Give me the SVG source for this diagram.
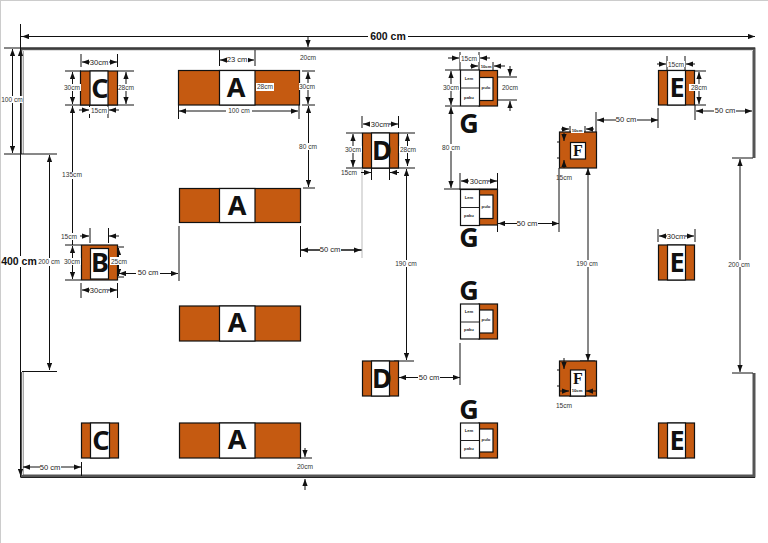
<svg xmlns="http://www.w3.org/2000/svg" width="768" height="543" viewBox="0 0 768 543">
<style>
.o{fill:#c55a11;stroke:#111;stroke-width:1.2}
.w{fill:#fff;stroke:#111;stroke-width:1.2}
.L{font:700 27px "Noto Sans","Liberation Sans",sans-serif;fill:#111;text-anchor:middle}
.S{font:700 16px "Liberation Serif",serif;fill:#111;text-anchor:middle}
.t{font:6.6px "Liberation Sans",sans-serif;fill:#333;text-anchor:middle}
.m{font:7.6px "Liberation Sans",sans-serif;fill:#222;text-anchor:middle}
.b{font:700 10.500px "Liberation Sans",sans-serif;fill:#111;text-anchor:middle}
.x{font:700 4.2px "Liberation Sans",sans-serif;fill:#222;text-anchor:middle}
.d{stroke:#111;stroke-width:1;fill:none}
.a{stroke:#111;stroke-width:1;fill:none;marker-start:url(#h);marker-end:url(#h)}
.e{stroke:#111;stroke-width:1;fill:none;marker-end:url(#h)}
.wall{stroke:#555;fill:none;stroke-width:3}
.in{stroke:#ddd;fill:none;stroke-width:1}
.k{stroke:#222;fill:none;stroke-width:1}
</style>
<defs>
<marker id="h" viewBox="0 0 8 6" refX="8" refY="3" markerWidth="7" markerHeight="5.500" markerUnits="userSpaceOnUse" orient="auto-start-reverse"><path d="M0 0L8 3L0 6z" fill="#111"/></marker>
</defs>
<rect width="768" height="543" fill="#fff"/>
<path d="M.5 0V543M0 .5H768" stroke="#ccc" fill="none"/>
<g id="walls">
<path class="wall" d="M22 154V49H754V158"/>
<path class="wall" d="M22 372V476H754V373"/>
<path class="in" d="M22.500 154V50.500H753M22.500 372V475"/>
<path class="k" d="M20.500 48H755M20.500 477.500H755"/>
</g>
<g id="connectors">
<path class="d" d="M20.500 24V477M4 48H20M4 154H57M22 371.500H57M21 36.500H755"/>
<path class="d" d="M81 54V67M117.500 54V67M65 71H81M65 105H134M118 71H134M89.500 105V118M108 105V118M219.500 50V66M255 50V66M178.500 104V119M299 104V119M302 71H315M302 105H315M303 188H315M179 226V281M300.500 226V257M90 228V243M108.500 228V243M65 245H81M65 280H81M118 247H124M118 277H124M81 283V298M117.500 283V298M81.500 462V476M300 458H312"/>
<path class="d" d="M362 116V128M398.500 116V128M346 133H362M346 168H415M398 133H415M371.500 168V180M389.500 168V180M394 361H414M460 343V385"/>
<path class="d" d="M460 52V70M479 52V74M493 62V74M445 70H460M445 106H460M497 77H517M497 100H517M444 189H497M460 173V190M497.500 173V232M559 168V232M557 142H570M557 158H570M570 126V133M585 126V133M596 112V168M658 108V128M580 361H595M557 370H570M557 386H570M570 390V397M585 390V397"/>
<path class="d" d="M667 56V70M685 56V70M695 71H706M695 105H706M695 105V120M732 158H753M732 373H753M658 229V242M695 229V242"/>
<path stroke="#bbb" d="M362 168V258" fill="none"/>
<path class="d" d="M300.500 250H362"/>
<path class="a" d="M22 36.500H755"/>
<path class="a" d="M12.500 49V153"/>
<path class="a" d="M49.500 155V370"/>
<path class="a" d="M20.500 49V476"/>
<path class="a" d="M82 62H117"/>
<path class="a" d="M72.500 72V104"/>
<path class="a" d="M126 72V104"/>
<path class="a" d="M179 111H298"/>
<path class="a" d="M220 60H254"/>
<path class="a" d="M265 72V104"/>
<path class="a" d="M308 72V104"/>
<path class="a" d="M308.500 106V187"/>
<path class="a" d="M72.500 246V279"/>
<path class="a" d="M118.500 248V276"/>
<path class="a" d="M82 290H117"/>
<path class="a" d="M119 273.500H178"/>
<path class="a" d="M23 467H81"/>
<path class="a" d="M301 250H361"/>
<path class="a" d="M363 124H398"/>
<path class="a" d="M353 134V167"/>
<path class="a" d="M407.500 134V166"/>
<path class="a" d="M399 377.500H460"/>
<path class="a" d="M451 71V105"/>
<path class="a" d="M451 107V188"/>
<path class="a" d="M461 181H497"/>
<path class="a" d="M498 223.500H559"/>
<path class="a" d="M597 120H658"/>
<path class="a" d="M659 236H694"/>
<path class="a" d="M696 111H752"/>
<path class="a" d="M740 159V372"/>
<path class="a" d="M699 72V104"/>
<path class="a" d="M588 168V361"/>
<path class="a" d="M406.500 169V360"/>
<path class="e" d="M308 37V47"/>
<path class="e" d="M305 448V457"/>
<path class="e" d="M305 490V479"/>
<path class="e" d="M72.500 245V106"/>
<path class="e" d="M79 110H89"/>
<path class="e" d="M119 110H109"/>
<path class="e" d="M80 236H89"/>
<path class="e" d="M119 236H109"/>
<path class="e" d="M361 172.500H371"/>
<path class="e" d="M399 172.500H390"/>
<path class="e" d="M448 58H459"/>
<path class="e" d="M490 58H480"/>
<path class="e" d="M470 66H478"/>
<path class="e" d="M505 66H494"/>
<path class="e" d="M510 66V76"/>
<path class="e" d="M510 111V101"/>
<path class="e" d="M657 64H666"/>
<path class="e" d="M695 64H686"/>
</g>
<g id="A1"><rect class="o" x="178.500" y="70.500" width="121" height="34.500"/><rect class="w" x="219.500" y="70.500" width="35.500" height="34.500"/><text class="L" x="236" y="97">A</text></g>
<g id="A2"><rect class="o" x="179.500" y="188.500" width="121" height="34"/><rect class="w" x="219.500" y="188.500" width="35.500" height="34"/><text class="L" x="237" y="215">A</text></g>
<g id="A3"><rect class="o" x="179.500" y="306" width="121" height="35"/><rect class="w" x="219.500" y="306" width="35.500" height="35"/><text class="L" x="237" y="332">A</text></g>
<g id="A4"><rect class="o" x="179.500" y="423" width="121" height="35"/><rect class="w" x="219.500" y="423" width="35.500" height="35"/><text class="L" x="237" y="449">A</text></g>
<g id="C1"><rect class="o" x="80.500" y="71" width="37" height="34"/><rect class="w" x="90" y="71" width="18" height="34"/><text class="L" x="100" y="98">C</text></g>
<g id="C2"><rect class="o" x="81.500" y="423" width="37" height="35"/><rect class="w" x="90.500" y="423" width="19" height="35"/><text class="L" x="101" y="450">C</text></g>
<g id="B"><rect class="o" x="81.500" y="245" width="36" height="35"/><rect class="w" x="90.500" y="248.500" width="18" height="30.500"/><text class="L" x="100" y="272">B</text></g>
<g id="D1"><rect class="o" x="362.500" y="133" width="36" height="35"/><rect class="w" x="371.500" y="133" width="18" height="35"/><text class="L" x="382" y="160">D</text></g>
<g id="D2"><rect class="o" x="362.500" y="361" width="36" height="35"/><rect class="w" x="371.500" y="361" width="18" height="35"/><text class="L" x="382" y="388">D</text></g>
<g id="E1"><rect class="o" x="658.500" y="70.500" width="36" height="34.500"/><rect class="w" x="667.500" y="70.500" width="18" height="34.500"/><text class="L" x="677" y="97">E</text></g>
<g id="E2"><rect class="o" x="658.500" y="245" width="36" height="35"/><rect class="w" x="667.500" y="245" width="18" height="35"/><text class="L" x="677" y="272">E</text></g>
<g id="E3"><rect class="o" x="658.500" y="423" width="36" height="35"/><rect class="w" x="667.500" y="423" width="18" height="35"/><text class="L" x="677" y="450">E</text></g>
<g id="F1"><rect class="o" x="559.500" y="132" width="37" height="36"/><rect class="w" x="570.500" y="142.500" width="15" height="16.500"/><text class="S" x="578" y="156">F</text>
<path class="e" d="M564 133V141"/><path class="e" d="M564 168V160"/><path class="e" d="M561 129H569"/><path class="e" d="M594 129H586"/></g>
<g id="F2"><rect class="o" x="559.500" y="361" width="37" height="35"/><rect class="w" x="570.500" y="370" width="15" height="26"/><text class="S" x="578" y="384">F</text>
<path class="e" d="M564 358V369"/><path class="e" d="M560 391H569"/><path class="e" d="M596 391H586"/></g>
<g id="G1"><rect class="o" x="479" y="70.500" width="18.500" height="35.500"/><rect class="w" x="479" y="77.500" width="14" height="23"/><rect class="w" x="460.500" y="70" width="19" height="36"/><path class="k" d="M460 88H479"/><text class="x" x="469" y="80">Lem</text><text class="x" x="469" y="99">paku</text><text class="x" x="486" y="89">pulo</text><text class="L" x="469" y="133">G</text></g>
<g id="G2"><rect class="o" x="479" y="189.500" width="18.500" height="35.500"/><rect class="w" x="479" y="195" width="14" height="23.500"/><rect class="w" x="460.500" y="189.500" width="19" height="36"/><path class="k" d="M460 207.500H479"/><text class="x" x="469" y="199">Lem</text><text class="x" x="469" y="217">paku</text><text class="x" x="486" y="208">pulo</text><text class="L" x="469" y="247">G</text></g>
<g id="G3"><rect class="o" x="479" y="304" width="18.500" height="35"/><rect class="w" x="479" y="310" width="14" height="23"/><rect class="w" x="460.500" y="304" width="19" height="35"/><path class="k" d="M460 322H479"/><text class="x" x="469" y="313">Lem</text><text class="x" x="469" y="331">paku</text><text class="x" x="486" y="321">pulo</text><text class="L" x="469" y="300">G</text></g>
<g id="G4"><rect class="o" x="479" y="423" width="18.500" height="35"/><rect class="w" x="479" y="429" width="14" height="23"/><rect class="w" x="460.500" y="423" width="19" height="35"/><path class="k" d="M460 440.500H479"/><text class="x" x="469" y="432">Lem</text><text class="x" x="469" y="450">paku</text><text class="x" x="486" y="441">pulo</text><text class="L" x="469" y="419">G</text></g>
<g id="labels">
<g fill="#fff"><rect x="368" y="31" width="40" height="10"/><rect x="3" y="256" width="34" height="11"/><rect x="38" y="258" width="23" height="8"/><rect x="90" y="59" width="19" height="7"/><rect x="227" y="57" width="21" height="7"/><rect x="226" y="108" width="26" height="7"/><rect x="256" y="83" width="18" height="8"/><rect x="89" y="107" width="19" height="7"/><rect x="64" y="84" width="17" height="7"/><rect x="118" y="84" width="17" height="7"/><rect x="299" y="83" width="17" height="7"/><rect x="298" y="143" width="21" height="7"/><rect x="62" y="172" width="21" height="7"/><rect x="2" y="96" width="21" height="7"/><rect x="62" y="233" width="17" height="7"/><rect x="63" y="258" width="18" height="7"/><rect x="110" y="257" width="17" height="8"/><rect x="90" y="287" width="18" height="7"/><rect x="136" y="270" width="24" height="7"/><rect x="40" y="464" width="21" height="7"/><rect x="320" y="247" width="21" height="7"/><rect x="370" y="121" width="19" height="7"/><rect x="344" y="146" width="18" height="7"/><rect x="399" y="146" width="17" height="7"/><rect x="340" y="169" width="19" height="7"/><rect x="395" y="260" width="23" height="7"/><rect x="418" y="374" width="22" height="7"/><rect x="460" y="55" width="19" height="7"/><rect x="480" y="63" width="12" height="6"/><rect x="442" y="84" width="18" height="7"/><rect x="500" y="84" width="20" height="7"/><rect x="441" y="144" width="20" height="7"/><rect x="469" y="178" width="19" height="7"/><rect x="517" y="220" width="21" height="7"/><rect x="576" y="260" width="23" height="7"/><rect x="616" y="117" width="21" height="7"/><rect x="714" y="108" width="22" height="7"/><rect x="727" y="260" width="24" height="7"/><rect x="667" y="61" width="18" height="6"/><rect x="689" y="84" width="19" height="7"/><rect x="667" y="233" width="18" height="7"/><rect x="571" y="127" width="13" height="6"/><rect x="571" y="388" width="13" height="6"/></g>
<text class="b" x="388" y="40">600 cm</text><text class="b" x="19" y="265">400 cm</text>
<text class="t" x="12" y="102">100 cm</text><text class="t" x="49" y="264">200 cm</text><text class="m" x="99" y="65">30cm</text><text class="m" x="237" y="62">23 cm</text><text class="t" x="72" y="90">30cm</text><text class="t" x="126" y="90">28cm</text><text class="t" x="99" y="113">15cm</text><text class="t" x="265" y="89">28cm</text><text class="t" x="307" y="89">30cm</text><text class="t" x="308" y="60">20cm</text><text class="t" x="239" y="113">100 cm</text><text class="t" x="308" y="149">80 cm</text><text class="t" x="72" y="177">135cm</text>
<text class="t" x="69" y="239">15cm</text><text class="t" x="72" y="264">30cm</text><text class="t" x="119" y="264">25cm</text><text class="m" x="99" y="293">30cm</text><text class="m" x="148" y="275">50 cm</text><text class="m" x="50" y="470">50 cm</text><text class="t" x="305" y="469">20cm</text><text class="m" x="330" y="252">50 cm</text>
<text class="m" x="380" y="127">30cm</text><text class="t" x="353" y="152">30cm</text><text class="t" x="408" y="152">28cm</text><text class="t" x="349" y="175">15cm</text><text class="t" x="406" y="266">190 cm</text><text class="m" x="429" y="380">50 cm</text>
<text class="t" x="469" y="61">15cm</text><text class="x" x="486" y="68">10cm</text><text class="t" x="451" y="90">30cm</text><text class="t" x="510" y="90">20cm</text><text class="t" x="451" y="150">80 cm</text><text class="m" x="479" y="184">30cm</text><text class="m" x="527" y="226">50 cm</text>
<text class="x" x="577" y="132">10cm</text><text class="t" x="564" y="180">15cm</text><text class="t" x="587" y="266">190 cm</text><text class="x" x="577" y="392">10cm</text><text class="t" x="564" y="408">15cm</text>
<text class="m" x="626" y="122">50 cm</text><text class="t" x="676" y="67">15cm</text><text class="t" x="699" y="90">28cm</text><text class="m" x="725" y="113">50 cm</text><text class="t" x="739" y="267">200 cm</text><text class="m" x="676" y="239">30cm</text>
</g>
</svg>
